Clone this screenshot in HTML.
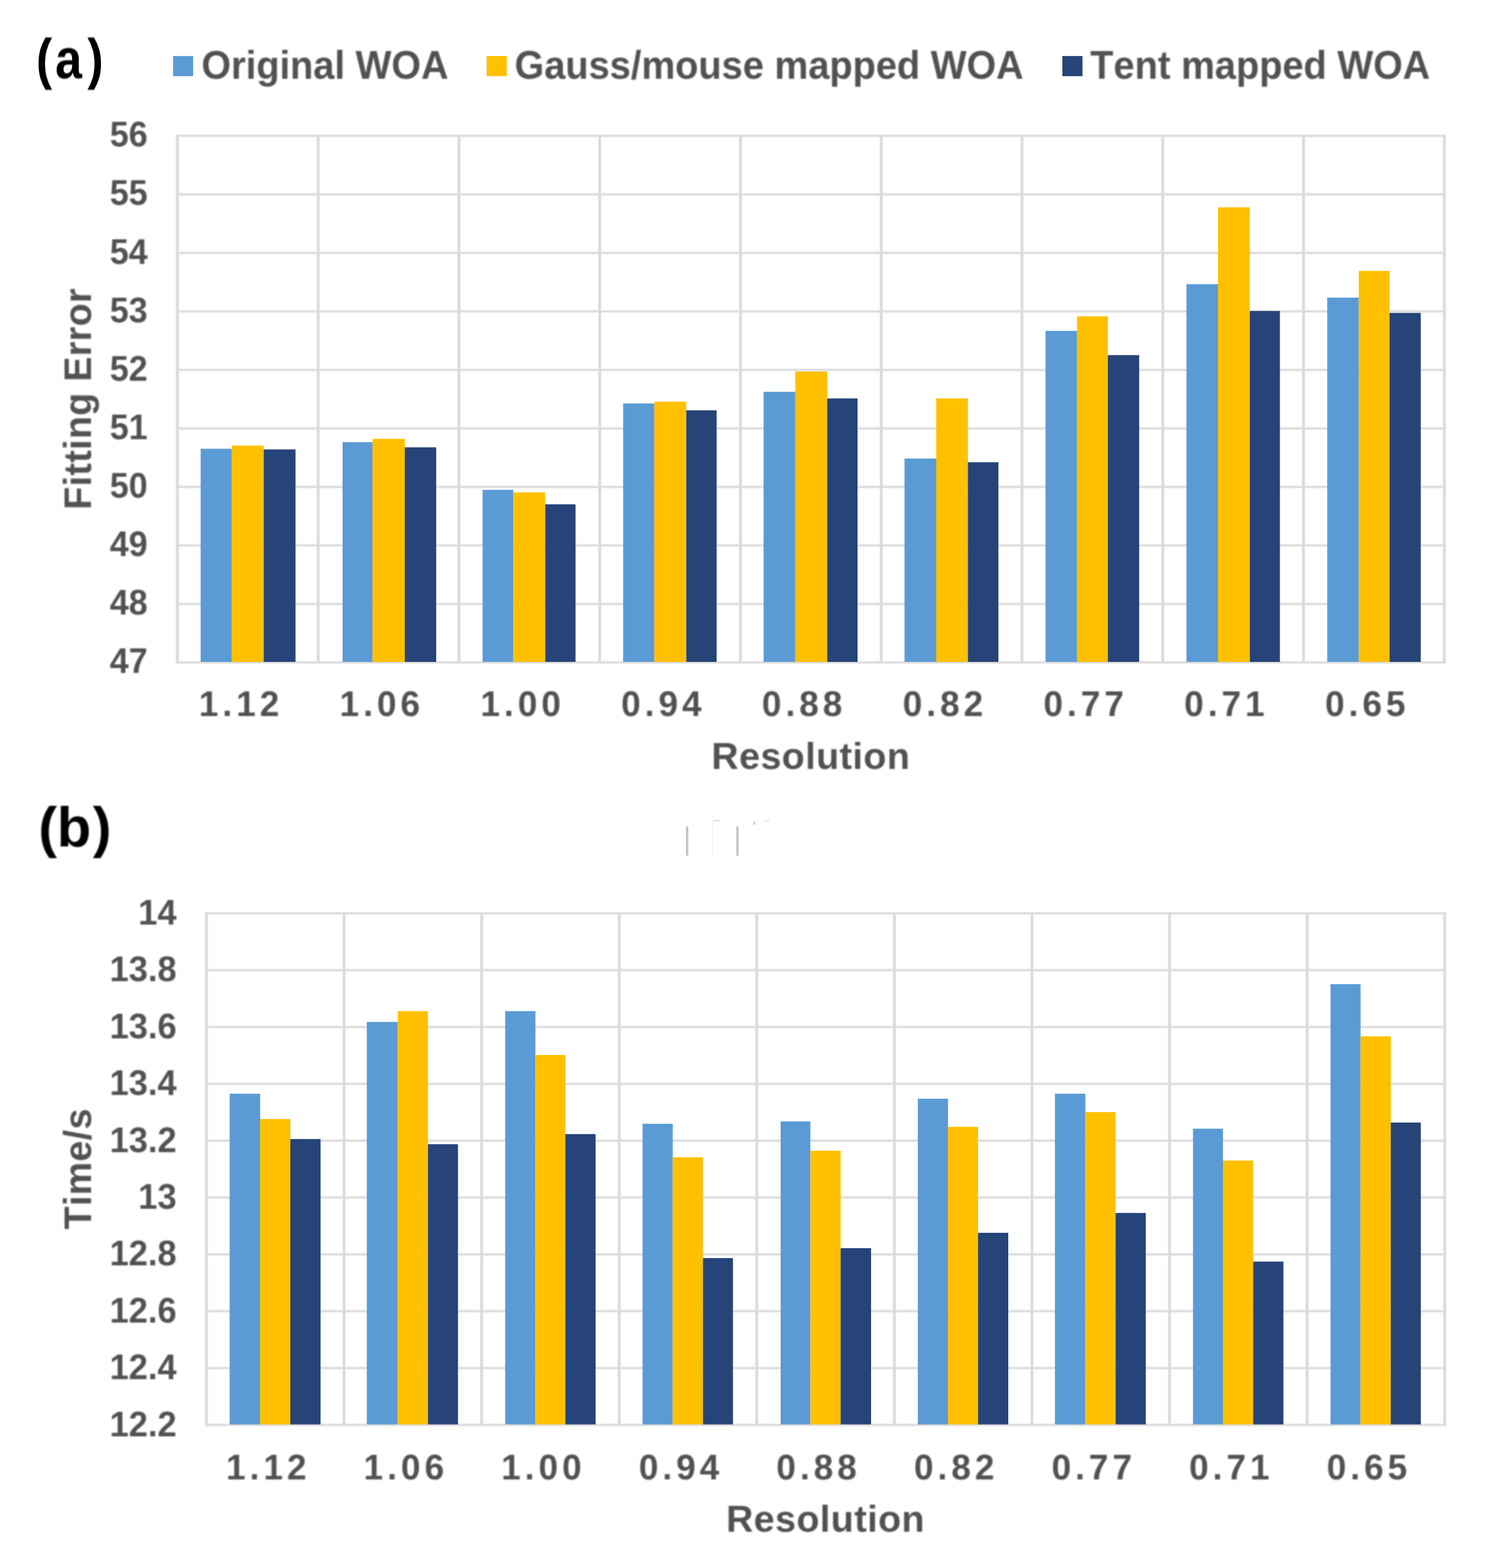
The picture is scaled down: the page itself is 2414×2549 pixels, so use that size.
<!DOCTYPE html>
<html lang="en">
<head>
<meta charset="utf-8">
<title>WOA fitting error and time versus resolution</title>
<style>
html, body { margin: 0; padding: 0; background: #ffffff; }
body { width: 2414px; height: 2549px; overflow: hidden; }
svg { display: block; }
text { font-family: "Liberation Sans", sans-serif; font-weight: 700; fill: #515151; font-kerning: none; }
.panel { font-size: 91px; fill: #000000; }
.leg { font-size: 61.8px; letter-spacing: 0px; }
.yt text { letter-spacing: 0px; }
.ttl { font-size: 61px; }
.vt { letter-spacing: 0.62px; }
.ht { letter-spacing: 0.8px; }
.tick text { font-size: 57px; }
.xt text { letter-spacing: 6.6px; }
.halo rect { fill: #f0f0f0; }
.grid rect { fill: #dadada; }
text { filter: blur(0.9px); }
.halo, .grid, .bars, .ghost, #legend rect { filter: blur(0.6px); }
.b { fill: #5b9bd5; } .y { fill: #ffc000; } .n { fill: #264478; }
</style>
</head>
<body>
<svg width="2414" height="2549" viewBox="0 0 2414 2549">
<rect x="0" y="0" width="2414" height="2549" fill="#ffffff"/>
<text class="panel" transform="translate(0 126.6) scale(0.86 1.005)" x="68.2 104.4 165.1" y="0">(a)</text>
<text class="panel" transform="translate(0 1376.3) scale(1 1.008)" x="62.6 92.5 150.8" y="0">(b)</text>
<g id="legend">
<rect x="281.3" y="91.1" width="32.7" height="32.7" fill="#5b9bd5"/>
<text class="leg" transform="translate(327.4 127.9) scale(1 1.035)">Original WOA</text>
<rect x="791.1" y="91.1" width="32.7" height="32.7" fill="#ffc000"/>
<text class="leg" transform="translate(836.6 127.9) scale(1 1.035)">Gauss/mouse mapped WOA</text>
<rect x="1727" y="91.1" width="32.7" height="32.7" fill="#264478"/>
<text class="leg" transform="translate(1772.3 127.9) scale(1 1.035)">Tent mapped WOA</text>
</g>
<g id="chart-a">
<g class="halo">
<rect x="285.4" y="218.1" width="2065.5" height="5.6"/>
<rect x="285.4" y="313.21" width="2065.5" height="5.6"/>
<rect x="285.4" y="408.32" width="2065.5" height="5.6"/>
<rect x="285.4" y="503.43" width="2065.5" height="5.6"/>
<rect x="285.4" y="598.54" width="2065.5" height="5.6"/>
<rect x="285.4" y="693.66" width="2065.5" height="5.6"/>
<rect x="285.4" y="788.77" width="2065.5" height="5.6"/>
<rect x="285.4" y="883.88" width="2065.5" height="5.6"/>
<rect x="285.4" y="978.99" width="2065.5" height="5.6"/>
<rect x="285.4" y="1074.1" width="2065.5" height="5.6"/>
<rect x="285.4" y="218.1" width="6" height="861.6"/>
<rect x="514.23" y="218.1" width="6" height="861.6"/>
<rect x="743.07" y="218.1" width="6" height="861.6"/>
<rect x="971.9" y="218.1" width="6" height="861.6"/>
<rect x="1200.73" y="218.1" width="6" height="861.6"/>
<rect x="1429.57" y="218.1" width="6" height="861.6"/>
<rect x="1658.4" y="218.1" width="6" height="861.6"/>
<rect x="1887.23" y="218.1" width="6" height="861.6"/>
<rect x="2116.07" y="218.1" width="6" height="861.6"/>
<rect x="2344.9" y="218.1" width="6" height="861.6"/>
</g>
<g class="grid">
<rect x="286.6" y="219.8" width="2063.1" height="2.2"/>
<rect x="286.6" y="314.91" width="2063.1" height="2.2"/>
<rect x="286.6" y="410.02" width="2063.1" height="2.2"/>
<rect x="286.6" y="505.13" width="2063.1" height="2.2"/>
<rect x="286.6" y="600.24" width="2063.1" height="2.2"/>
<rect x="286.6" y="695.36" width="2063.1" height="2.2"/>
<rect x="286.6" y="790.47" width="2063.1" height="2.2"/>
<rect x="286.6" y="885.58" width="2063.1" height="2.2"/>
<rect x="286.6" y="980.69" width="2063.1" height="2.2"/>
<rect x="286.6" y="1075.8" width="2063.1" height="2.2"/>
<rect x="286.6" y="219.8" width="3.6" height="858.2"/>
<rect x="515.43" y="219.8" width="3.6" height="858.2"/>
<rect x="744.27" y="219.8" width="3.6" height="858.2"/>
<rect x="973.1" y="219.8" width="3.6" height="858.2"/>
<rect x="1201.93" y="219.8" width="3.6" height="858.2"/>
<rect x="1430.77" y="219.8" width="3.6" height="858.2"/>
<rect x="1659.6" y="219.8" width="3.6" height="858.2"/>
<rect x="1888.43" y="219.8" width="3.6" height="858.2"/>
<rect x="2117.27" y="219.8" width="3.6" height="858.2"/>
<rect x="2346.1" y="219.8" width="3.6" height="858.2"/>
</g>
<g class="bars">
<rect class="b" x="326.2" y="729.5" width="50.6" height="346.5"/>
<rect class="y" x="376.8" y="724.3" width="51.8" height="351.7"/>
<rect class="n" x="428.6" y="730.6" width="51.8" height="345.4"/>
<rect class="b" x="556.9" y="718.7" width="48.8" height="357.3"/>
<rect class="y" x="605.7" y="713.4" width="52.3" height="362.6"/>
<rect class="n" x="658" y="727.2" width="51.1" height="348.8"/>
<rect class="b" x="784.5" y="796.3" width="50" height="279.7"/>
<rect class="y" x="834.5" y="800.4" width="51.8" height="275.6"/>
<rect class="n" x="886.3" y="819.8" width="49.3" height="256.2"/>
<rect class="b" x="1013" y="655.9" width="50.7" height="420.1"/>
<rect class="y" x="1063.7" y="652.9" width="51.9" height="423.1"/>
<rect class="n" x="1115.6" y="667.1" width="49.3" height="408.9"/>
<rect class="b" x="1241.3" y="636.9" width="51.5" height="439.1"/>
<rect class="y" x="1292.8" y="604" width="51.9" height="472"/>
<rect class="n" x="1344.7" y="647.7" width="49.3" height="428.3"/>
<rect class="b" x="1470.4" y="745.4" width="51.6" height="330.6"/>
<rect class="y" x="1522" y="647.7" width="51.4" height="428.3"/>
<rect class="n" x="1573.4" y="751.4" width="49.6" height="324.6"/>
<rect class="b" x="1699.6" y="537.9" width="51.2" height="538.1"/>
<rect class="y" x="1750.8" y="514.2" width="50.1" height="561.8"/>
<rect class="n" x="1800.9" y="577.3" width="50.9" height="498.7"/>
<rect class="b" x="1928.7" y="462.1" width="51.3" height="613.9"/>
<rect class="y" x="1980" y="337.1" width="51.7" height="738.9"/>
<rect class="n" x="2031.7" y="505.5" width="48.9" height="570.5"/>
<rect class="b" x="2157.5" y="483.8" width="51.3" height="592.2"/>
<rect class="y" x="2208.8" y="440.4" width="50.1" height="635.6"/>
<rect class="n" x="2258.9" y="508.7" width="50.7" height="567.3"/>
</g>
<g class="tick yt" text-anchor="end">
<text transform="translate(239.9 238.3) scale(0.97 1)">56</text>
<text transform="translate(239.9 333.41) scale(0.97 1)">55</text>
<text transform="translate(239.9 428.52) scale(0.97 1)">54</text>
<text transform="translate(239.9 523.63) scale(0.97 1)">53</text>
<text transform="translate(239.9 618.74) scale(0.97 1)">52</text>
<text transform="translate(239.9 713.86) scale(0.97 1)">51</text>
<text transform="translate(239.9 808.97) scale(0.97 1)">50</text>
<text transform="translate(239.9 904.08) scale(0.97 1)">49</text>
<text transform="translate(239.9 999.19) scale(0.97 1)">48</text>
<text transform="translate(239.9 1094.3) scale(0.97 1)">47</text>
</g>
<g class="tick xt" text-anchor="middle">
<text x="391.92" y="1164.4">1.12</text>
<text x="620.75" y="1164.4">1.06</text>
<text x="849.58" y="1164.4">1.00</text>
<text x="1078.42" y="1164.4">0.94</text>
<text x="1307.25" y="1164.4">0.88</text>
<text x="1536.08" y="1164.4">0.82</text>
<text x="1764.92" y="1164.4">0.77</text>
<text x="1993.75" y="1164.4">0.71</text>
<text x="2222.58" y="1164.4">0.65</text>
</g>
<text class="ttl vt" text-anchor="middle" transform="translate(147.9 648.4) rotate(-90) scale(1 1.04)">Fitting Error</text>
<text class="ttl ht" text-anchor="middle" x="1318.15" y="1250.3">Resolution</text>
</g>
<g class="ghost">
<rect x="1115" y="1343.5" width="4" height="47.5" fill="#c6c6c6"/>
<rect x="1196.8" y="1343.5" width="4" height="47.5" fill="#c6c6c6"/>
<rect x="1157.2" y="1335" width="2.4" height="56" fill="#f4f4f4"/>
<rect x="1159.2" y="1333" width="10.5" height="2.4" fill="#e0e0e0"/>
<rect x="1224.4" y="1335.2" width="4" height="5.4" fill="#d6d6d6"/>
<rect x="1240.7" y="1333" width="11" height="2.4" fill="#ebebeb"/>
<rect x="1284.8" y="1333.4" width="3.4" height="2" fill="#f0f0f0"/>
</g>
<g id="chart-b">
<g class="halo">
<rect x="332.6" y="1481.9" width="2018.9" height="5.6"/>
<rect x="332.6" y="1574.31" width="2018.9" height="5.6"/>
<rect x="332.6" y="1666.72" width="2018.9" height="5.6"/>
<rect x="332.6" y="1759.13" width="2018.9" height="5.6"/>
<rect x="332.6" y="1851.54" width="2018.9" height="5.6"/>
<rect x="332.6" y="1943.96" width="2018.9" height="5.6"/>
<rect x="332.6" y="2036.37" width="2018.9" height="5.6"/>
<rect x="332.6" y="2128.78" width="2018.9" height="5.6"/>
<rect x="332.6" y="2221.19" width="2018.9" height="5.6"/>
<rect x="332.6" y="2313.6" width="2018.9" height="5.6"/>
<rect x="332.6" y="1481.9" width="6" height="837.3"/>
<rect x="556.26" y="1481.9" width="6" height="837.3"/>
<rect x="779.91" y="1481.9" width="6" height="837.3"/>
<rect x="1003.57" y="1481.9" width="6" height="837.3"/>
<rect x="1227.22" y="1481.9" width="6" height="837.3"/>
<rect x="1450.88" y="1481.9" width="6" height="837.3"/>
<rect x="1674.53" y="1481.9" width="6" height="837.3"/>
<rect x="1898.19" y="1481.9" width="6" height="837.3"/>
<rect x="2121.84" y="1481.9" width="6" height="837.3"/>
<rect x="2345.5" y="1481.9" width="6" height="837.3"/>
</g>
<g class="grid">
<rect x="333.8" y="1483.6" width="2016.5" height="2.2"/>
<rect x="333.8" y="1576.01" width="2016.5" height="2.2"/>
<rect x="333.8" y="1668.42" width="2016.5" height="2.2"/>
<rect x="333.8" y="1760.83" width="2016.5" height="2.2"/>
<rect x="333.8" y="1853.24" width="2016.5" height="2.2"/>
<rect x="333.8" y="1945.66" width="2016.5" height="2.2"/>
<rect x="333.8" y="2038.07" width="2016.5" height="2.2"/>
<rect x="333.8" y="2130.48" width="2016.5" height="2.2"/>
<rect x="333.8" y="2222.89" width="2016.5" height="2.2"/>
<rect x="333.8" y="2315.3" width="2016.5" height="2.2"/>
<rect x="333.8" y="1483.6" width="3.6" height="833.9"/>
<rect x="557.46" y="1483.6" width="3.6" height="833.9"/>
<rect x="781.11" y="1483.6" width="3.6" height="833.9"/>
<rect x="1004.77" y="1483.6" width="3.6" height="833.9"/>
<rect x="1228.42" y="1483.6" width="3.6" height="833.9"/>
<rect x="1452.08" y="1483.6" width="3.6" height="833.9"/>
<rect x="1675.73" y="1483.6" width="3.6" height="833.9"/>
<rect x="1899.39" y="1483.6" width="3.6" height="833.9"/>
<rect x="2123.04" y="1483.6" width="3.6" height="833.9"/>
<rect x="2346.7" y="1483.6" width="3.6" height="833.9"/>
</g>
<g class="bars">
<rect class="b" x="373.3" y="1778" width="49.6" height="537.6"/>
<rect class="y" x="422.9" y="1819.1" width="49.1" height="496.5"/>
<rect class="n" x="472" y="1851.7" width="49.1" height="463.9"/>
<rect class="b" x="596.3" y="1661.3" width="50.3" height="654.3"/>
<rect class="y" x="646.6" y="1643.7" width="49.1" height="671.9"/>
<rect class="n" x="695.7" y="1860.1" width="48.8" height="455.5"/>
<rect class="b" x="821.2" y="1643.7" width="49.2" height="671.9"/>
<rect class="y" x="870.4" y="1715" width="48.7" height="600.6"/>
<rect class="n" x="919.1" y="1843.6" width="49.1" height="472"/>
<rect class="b" x="1044.5" y="1826.8" width="49.1" height="488.8"/>
<rect class="y" x="1093.6" y="1881.3" width="49.1" height="434.3"/>
<rect class="n" x="1142.7" y="2045.2" width="48.8" height="270.4"/>
<rect class="b" x="1269" y="1823" width="48.4" height="492.6"/>
<rect class="y" x="1317.4" y="1870.6" width="49.1" height="445"/>
<rect class="n" x="1366.5" y="2029.1" width="49.5" height="286.5"/>
<rect class="b" x="1492" y="1786.1" width="49.1" height="529.5"/>
<rect class="y" x="1541.1" y="1831.8" width="48.8" height="483.8"/>
<rect class="n" x="1589.9" y="2004.1" width="49.1" height="311.5"/>
<rect class="b" x="1714.9" y="1778" width="49.5" height="537.6"/>
<rect class="y" x="1764.4" y="1807.9" width="49.1" height="507.7"/>
<rect class="n" x="1813.5" y="1971.8" width="49.1" height="343.8"/>
<rect class="b" x="1939.3" y="1834.8" width="48.7" height="480.8"/>
<rect class="y" x="1988" y="1886.6" width="49.2" height="429"/>
<rect class="n" x="2037.2" y="2050.9" width="49.1" height="264.7"/>
<rect class="b" x="2162.9" y="1599.9" width="48.8" height="715.7"/>
<rect class="y" x="2211.7" y="1684.7" width="49.1" height="630.9"/>
<rect class="n" x="2260.8" y="1824.8" width="48.9" height="490.8"/>
</g>
<g class="tick yt" text-anchor="end">
<text transform="translate(287 1502.9) scale(0.98 1)">14</text>
<text transform="translate(287 1595.31) scale(0.98 1)">13.8</text>
<text transform="translate(287 1687.72) scale(0.98 1)">13.6</text>
<text transform="translate(287 1780.13) scale(0.98 1)">13.4</text>
<text transform="translate(287 1872.54) scale(0.98 1)">13.2</text>
<text transform="translate(287 1964.96) scale(0.98 1)">13</text>
<text transform="translate(287 2057.37) scale(0.98 1)">12.8</text>
<text transform="translate(287 2149.78) scale(0.98 1)">12.6</text>
<text transform="translate(287 2242.19) scale(0.98 1)">12.4</text>
<text transform="translate(287 2334.6) scale(0.98 1)">12.2</text>
</g>
<g class="tick xt" text-anchor="middle">
<text x="436.13" y="2405">1.12</text>
<text x="659.78" y="2405">1.06</text>
<text x="883.44" y="2405">1.00</text>
<text x="1107.09" y="2405">0.94</text>
<text x="1330.75" y="2405">0.88</text>
<text x="1554.41" y="2405">0.82</text>
<text x="1778.06" y="2405">0.77</text>
<text x="2001.72" y="2405">0.71</text>
<text x="2225.37" y="2405">0.65</text>
</g>
<text class="ttl vt" text-anchor="middle" transform="translate(148 1900.05) rotate(-90) scale(1 1.04)">Time/s</text>
<text class="ttl ht" text-anchor="middle" x="1342.05" y="2490.1">Resolution</text>
</g>
</svg>
</body>
</html>
